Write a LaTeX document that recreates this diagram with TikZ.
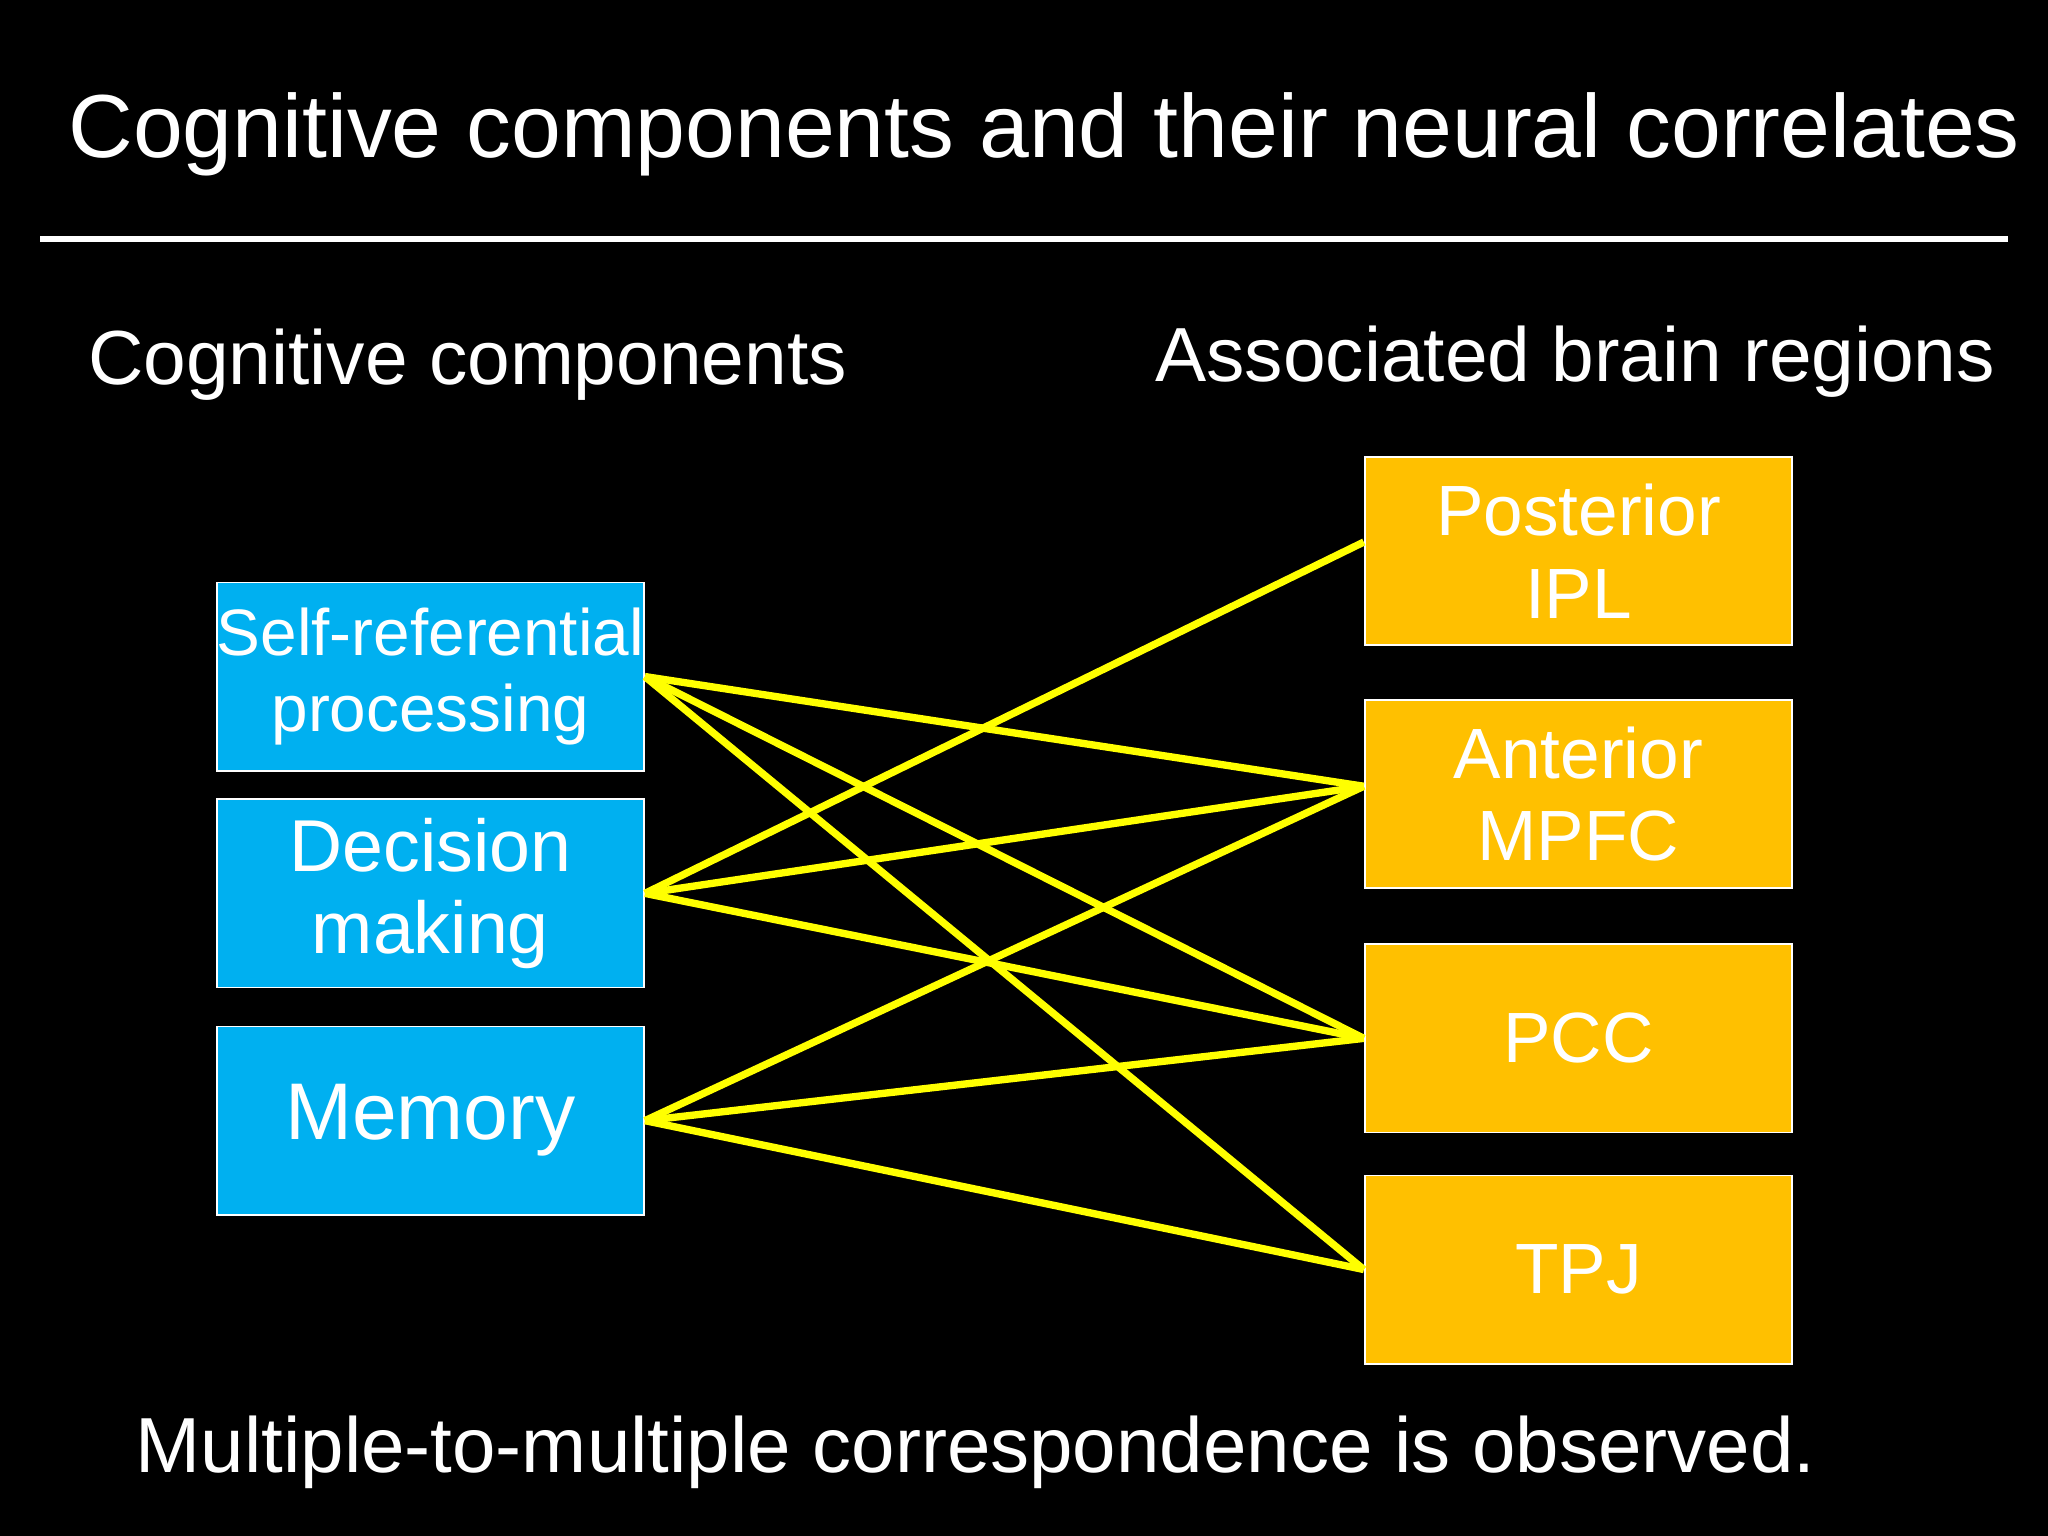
\documentclass[tikz,border=0pt]{standalone}
\usepackage{fontspec}
\setmainfont{Liberation Sans}
\definecolor{cblue}{HTML}{00B0F0}
\definecolor{corange}{HTML}{FFC000}
\definecolor{cyel}{HTML}{FFFF00}
\begin{document}
\begin{tikzpicture}[x=0.01cm,y=-0.01cm,
  comp/.style={draw=white, fill=cblue, text=white, minimum width=3.27cm, minimum height=1.44cm, align=center, inner sep=0pt},
  reg/.style={draw=white, fill=corange, text=white, minimum width=3.27cm, minimum height=1.44cm, align=center, inner sep=0pt},
  link/.style={cyel, line width=1.6pt}]
  \fill[black] (0,0) rectangle (1568,1176);
  \useasboundingbox (0,0) rectangle (1568,1176);

  % Title
  \node[anchor=west, text=white, font=\fontsize{19.5}{23}\selectfont] (title) at (40,103) {Cognitive components and their neural correlates};
  \draw[white, line width=1.2pt] (31,183) -- (1537,183);

  % Headings
  \node[anchor=west, text=white, font=\fontsize{16.7}{20}\selectfont] (hl) at (55,279) {Cognitive components};
  \node[anchor=east, text=white, font=\fontsize{16.7}{20}\selectfont] (hr) at (1540,277) {Associated brain regions};

  % Components
  \node[comp, font=\fontsize{14.3}{16.5}\selectfont] (self) at (329.5,518) {Self-referential\\processing};
  \node[comp, font=\fontsize{16}{18}\selectfont] (dec) at (329.5,684) {Decision\\making};
  \node[comp, font=\fontsize{17.5}{20}\selectfont] (mem) at (329.5,858) {Memory};

  % Regions
  \node[reg, font=\fontsize{15.5}{18}\selectfont] (ipl) at (1208.5,422) {Posterior\\IPL};
  \node[reg, font=\fontsize{15.5}{18}\selectfont] (mpfc) at (1208.5,608) {Anterior\\MPFC};
  \node[reg, font=\fontsize{15.5}{18}\selectfont] (pcc) at (1208.5,795) {PCC};
  \node[reg, font=\fontsize{15.5}{18}\selectfont] (tpj) at (1208.5,972) {TPJ};

  % Links
  \draw[link] (self.east) -- ([yshift=0.06cm]mpfc.west);
  \draw[link] (self.east) -- (pcc.west);
  \draw[link] (self.east) -- (tpj.west);
  \draw[link] (dec.east) -- ([yshift=0.07cm]ipl.west);
  \draw[link] (dec.east) -- ([yshift=0.06cm]mpfc.west);
  \draw[link] (dec.east) -- (pcc.west);
  \draw[link] (mem.east) -- ([yshift=0.06cm]mpfc.west);
  \draw[link] (mem.east) -- (pcc.west);
  \draw[link] (mem.east) -- (tpj.west);

  % Footer
  \node[text=white, font=\fontsize{17}{20}\selectfont] (foot) at (747,1112) {Multiple-to-multiple correspondence is observed.};
\end{tikzpicture}
\end{document}
